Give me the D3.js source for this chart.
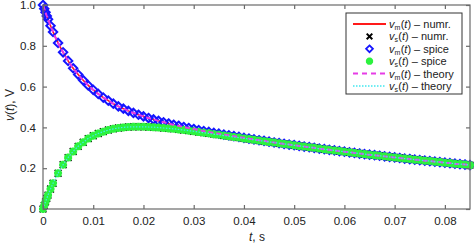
<!DOCTYPE html>
<html>
<head>
<meta charset="utf-8">
<script src="https://cdn.jsdelivr.net/npm/d3@7"></script>
<style>
  body { margin: 0; background: #fff; }
  svg { display: block; font-family: "Liberation Sans", Arial, sans-serif; }
</style>
</head>
<body>
<svg id="chart" width="474" height="245"></svg>
<script>
// time points, s (dense at the start like the simulator steps)
const tms = [0, 0.00025, 0.0005, 0.00075, 0.001, 0.0015].concat(d3.range(2, 86).map(k => k / 1000))

// vm(t), V
const vm = [1.000, 0.982, 0.964, 0.946, 0.930, 0.898,
  0.868, 0.814, 0.768, 0.726, 0.690, 0.659, 0.631, 0.606, 0.584, 0.564,
  0.546, 0.531, 0.516, 0.503, 0.492, 0.481, 0.471, 0.462, 0.454, 0.446,
  0.439, 0.432, 0.425, 0.419, 0.413, 0.408, 0.402, 0.397, 0.392, 0.387,
  0.382, 0.378, 0.373, 0.369, 0.365, 0.361, 0.357, 0.353, 0.349, 0.345,
  0.341, 0.337, 0.334, 0.330, 0.326, 0.323, 0.319, 0.316, 0.313, 0.309,
  0.306, 0.303, 0.300, 0.296, 0.293, 0.290, 0.287, 0.284, 0.281, 0.278,
  0.275, 0.272, 0.269, 0.266, 0.264, 0.261, 0.258, 0.255, 0.253, 0.250,
  0.247, 0.245, 0.242, 0.240, 0.237, 0.235, 0.232, 0.230, 0.227, 0.225,
  0.222, 0.220, 0.218, 0.215]

// vs(t), V
const vs = [0.000, 0.018, 0.035, 0.052, 0.068, 0.098,
  0.126, 0.175, 0.217, 0.252, 0.282, 0.307, 0.327, 0.345, 0.359, 0.370,
  0.379, 0.387, 0.393, 0.397, 0.400, 0.402, 0.403, 0.403, 0.403, 0.402,
  0.401, 0.399, 0.397, 0.395, 0.393, 0.390, 0.387, 0.384, 0.381, 0.377,
  0.374, 0.371, 0.367, 0.364, 0.360, 0.357, 0.353, 0.350, 0.346, 0.343,
  0.339, 0.336, 0.332, 0.329, 0.326, 0.322, 0.319, 0.316, 0.312, 0.309,
  0.306, 0.303, 0.300, 0.296, 0.293, 0.290, 0.287, 0.284, 0.281, 0.278,
  0.275, 0.272, 0.269, 0.266, 0.264, 0.261, 0.258, 0.255, 0.253, 0.250,
  0.247, 0.245, 0.242, 0.240, 0.237, 0.235, 0.232, 0.230, 0.227, 0.225,
  0.222, 0.220, 0.218, 0.215]

const xTicks = [0, 0.01, 0.02, 0.03, 0.04, 0.05, 0.06, 0.07, 0.08]
const yTicks = [0, 0.2, 0.4, 0.6, 0.8, 1.0]
const legendItems = [
  { sub: 'm', tail: ') \u2013 numr.', kind: 'line' },
  { sub: 's', tail: ') \u2013 numr.', kind: 'cross' },
  { sub: 'm', tail: ') \u2013 spice', kind: 'diamond' },
  { sub: 's', tail: ') \u2013 spice', kind: 'star' },
  { sub: 'm', tail: ') \u2013 theory', kind: 'dash' },
  { sub: 's', tail: ') \u2013 theory', kind: 'dot' },
]

const W = 474, H = 245
const m = { left: 43, right: 4, top: 5, bottom: 36 }
const svg = d3.select('#chart')

const x = d3.scaleLinear().domain([0, 0.085]).range([m.left, W - m.right])
const y = d3.scaleLinear().domain([0, 1]).range([H - m.bottom, m.top])

const axisColor = '#6a6a6a'
const textColor = '#222'
const red = '#ff1a1a', blue = '#1414ff', green = '#2cf23e', magenta = '#e63ce6', cyan = '#40e8f0'

let ptsM = tms.map((t, i) => [t, vm[i]])
let ptsS = tms.map((t, i) => [t, vs[i]])

let plot = svg.append('g')
let line = d3.line().x(d => x(d[0])).y(d => y(d[1])).curve(d3.curveMonotoneX)

// marker shapes
function crossPath(r) { return `M${-r},${-r}L${r},${r}M${-r},${r}L${r},${-r}` }
function diamondPath(r) { return `M0,${-r}L${r},0L0,${r}L${-r},0Z` }
function starPath(r) {
  let d = r * 0.72
  return `M${-r},0L${r},0M0,${-r}L0,${r}M${-d},${-d}L${d},${d}M${-d},${d}L${d},${-d}`
}

// vm numr. - red line
plot.append('path').datum(ptsM).attr('d', line)
  .attr('fill', 'none').attr('stroke', red).attr('stroke-width', 1.6)

// vs numr. - black crosses
plot.append('g').selectAll('path').data(ptsS).join('path')
  .attr('transform', d => `translate(${x(d[0])},${y(d[1])})`)
  .attr('d', crossPath(3.4))
  .attr('stroke', '#000').attr('stroke-width', 1.5).attr('fill', 'none')

// vm spice - blue diamonds
plot.append('g').selectAll('path').data(ptsM).join('path')
  .attr('transform', d => `translate(${x(d[0])},${y(d[1])})`)
  .attr('d', diamondPath(4.2))
  .attr('stroke', blue).attr('stroke-width', 2).attr('fill', 'none')

// vs spice - green stars
plot.append('g').selectAll('path').data(ptsS).join('path')
  .attr('transform', d => `translate(${x(d[0])},${y(d[1])})`)
  .attr('d', starPath(4))
  .attr('stroke', green).attr('stroke-width', 2.6).attr('fill', 'none')

// vm theory - magenta dashed
plot.append('path').datum(ptsM).attr('d', line)
  .attr('fill', 'none').attr('stroke', magenta).attr('stroke-width', 2)
  .attr('stroke-dasharray', '5,3')

// vs theory - cyan dotted
plot.append('path').datum(ptsS).attr('d', line)
  .attr('fill', 'none').attr('stroke', cyan).attr('stroke-width', 1.2)
  .attr('stroke-dasharray', '1.5,1.5')

// box and ticks
let x0 = m.left, x1 = W - m.right, y0 = H - m.bottom, y1 = m.top
svg.append('rect').attr('x', x0).attr('y', y1).attr('width', x1 - x0).attr('height', y0 - y1)
  .attr('fill', 'none').attr('stroke', axisColor).attr('stroke-width', 1.2)

let bottomAxis = svg.append('g').attr('transform', `translate(0,${y0})`)
  .call(d3.axisBottom(x).tickValues(xTicks).tickSizeInner(-4).tickSizeOuter(0).tickPadding(8)
    .tickFormat(d => d === 0 ? '0' : d3.format('.2f')(d)))
let topAxis = svg.append('g').attr('transform', `translate(0,${y1})`)
  .call(d3.axisTop(x).tickValues(xTicks).tickSizeInner(-4).tickSizeOuter(0).tickFormat(''))
let leftAxis = svg.append('g').attr('transform', `translate(${x0},0)`)
  .call(d3.axisLeft(y).tickValues(yTicks).tickSizeInner(-4).tickSizeOuter(0).tickPadding(7)
    .tickFormat(d => d === 0 ? '0' : d3.format('.1f')(d)))
let rightAxis = svg.append('g').attr('transform', `translate(${x1},0)`)
  .call(d3.axisRight(y).tickValues(yTicks).tickSizeInner(-4).tickSizeOuter(0).tickFormat(''))

;[bottomAxis, topAxis, leftAxis, rightAxis].forEach(g => {
  g.select('.domain').remove()
  g.selectAll('.tick line').attr('stroke', axisColor).attr('stroke-width', 1.2)
  g.selectAll('.tick text').attr('fill', textColor).attr('font-size', 11.5)
    .attr('font-family', '"Liberation Sans", Arial, sans-serif')
})

// axis labels
let xl = svg.append('text').attr('x', 257).attr('y', 241).attr('text-anchor', 'middle')
  .attr('font-size', 12).attr('fill', textColor)
xl.append('tspan').attr('font-style', 'italic').text('t')
xl.append('tspan').text(', s')

let yl = svg.append('text').attr('transform', 'translate(14,105) rotate(-90)')
  .attr('text-anchor', 'middle').attr('font-size', 12).attr('fill', textColor)
yl.append('tspan').attr('font-style', 'italic').text('v')
yl.append('tspan').text('(')
yl.append('tspan').attr('font-style', 'italic').text('t')
yl.append('tspan').text('), V')

// legend
let lg = svg.append('g')
lg.append('rect').attr('x', 346).attr('y', 13).attr('width', 116).attr('height', 81)
  .attr('fill', '#fff').attr('stroke', '#333').attr('stroke-width', 1)

legendItems.forEach((it, i) => {
  let cy = 24 + i * 12.4
  let row = lg.append('g')
  if (it.kind === 'line') {
    row.append('line').attr('x1', 353).attr('x2', 386).attr('y1', cy).attr('y2', cy)
      .attr('stroke', red).attr('stroke-width', 1.8)
  } else if (it.kind === 'dash') {
    row.append('line').attr('x1', 353).attr('x2', 386).attr('y1', cy).attr('y2', cy)
      .attr('stroke', magenta).attr('stroke-width', 2).attr('stroke-dasharray', '5,4')
  } else if (it.kind === 'dot') {
    row.append('line').attr('x1', 353).attr('x2', 386).attr('y1', cy).attr('y2', cy)
      .attr('stroke', cyan).attr('stroke-width', 1.3).attr('stroke-dasharray', '1.5,1.5')
  } else {
    let shape = { cross: crossPath(2.8), diamond: diamondPath(3.4), star: starPath(3.6) }[it.kind]
    let col = { cross: '#000', diamond: blue, star: green }[it.kind]
    let sw = { cross: 2, diamond: 1.8, star: 2.6 }[it.kind]
    row.append('path').attr('transform', `translate(369.5,${cy})`).attr('d', shape)
      .attr('stroke', col).attr('stroke-width', sw).attr('fill', 'none')
  }
  // label pieces kept as separate texts so the subscript doesn't stretch the row
  let base = cy + 4
  let v = row.append('text').attr('x', 389).attr('y', base)
    .attr('font-size', 11).attr('font-style', 'italic').attr('fill', textColor).text('v')
  let vx = 389 + v.node().getComputedTextLength()
  let sb = row.append('text').attr('x', vx).attr('y', base + 2)
    .attr('font-size', 7).attr('fill', textColor).text(it.sub)
  let sx = vx + sb.node().getComputedTextLength() + 0.3
  let rest = row.append('text').attr('x', sx).attr('y', base)
    .attr('font-size', 11).attr('fill', textColor)
  rest.append('tspan').text('(')
  rest.append('tspan').attr('font-style', 'italic').text('t')
  rest.append('tspan').text(it.tail)
})
</script>
</body>
</html>
